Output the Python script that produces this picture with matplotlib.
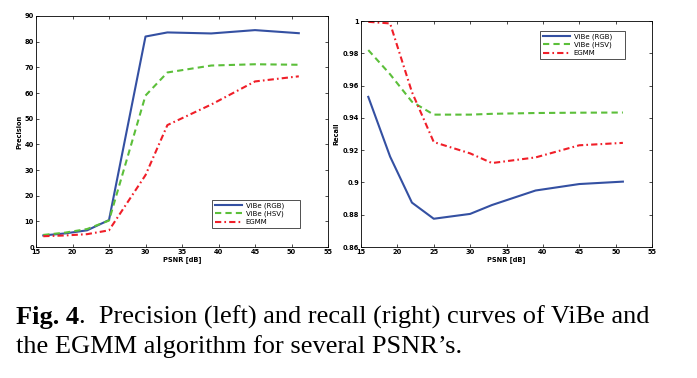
import matplotlib
matplotlib.use("Agg")
import matplotlib.pyplot as plt

psnr = [16, 19, 22, 25, 30, 33, 39, 45, 51]

prec_rgb = [4.5, 5.3, 6.5, 10.5, 82.0, 83.6, 83.2, 84.5, 83.3]
prec_hsv = [4.7, 5.6, 7.0, 10.3, 59.0, 68.0, 70.7, 71.2, 71.0]
prec_egmm = [4.2, 4.5, 5.0, 6.5, 28.0, 47.5, 55.5, 64.5, 66.5]

rec_rgb = [0.953, 0.916, 0.8875, 0.8775, 0.8805, 0.886, 0.895, 0.899, 0.9005]
rec_hsv = [0.982, 0.967, 0.950, 0.942, 0.942, 0.9425, 0.943, 0.9432, 0.9433]
rec_egmm = [0.9995, 0.9985, 0.956, 0.925, 0.918, 0.912, 0.9155, 0.923, 0.9245]

labels = ["ViBe (RGB)", "ViBe (HSV)", "EGMM"]
xticks = [15, 20, 25, 30, 35, 40, 45, 50, 55]
prec_ticks = [0, 10, 20, 30, 40, 50, 60, 70, 80, 90]
rec_ticks = [0.86, 0.88, 0.9, 0.92, 0.94, 0.96, 0.98, 1]

blue = "#3450a2"
green = "#5cbf3a"
red = "#f01e28"

W, H = 697, 378
fig = plt.figure(figsize=(W / 100, H / 100), dpi=100)

def add_ax(x0, y0, x1, y1):
    return fig.add_axes([x0 / W, 1 - y1 / H, (x1 - x0) / W, (y1 - y0) / H])

ax1 = add_ax(36, 16, 328, 247)
ax2 = add_ax(361, 21, 652, 247)

def style(ax, ylabel):
    ax.set_xlim(15, 55)
    ax.set_xticks(xticks)
    ax.tick_params(labelsize=4.8, length=2, width=0.5, direction="in",
                   top=True, right=True, pad=1.5, colors="black")
    for lab in ax.get_xticklabels() + ax.get_yticklabels():
        lab.set_fontweight("bold")
    ax.set_xlabel("PSNR [dB]", fontsize=4.8, labelpad=0.5, fontweight="bold")
    ax.set_ylabel(ylabel, fontsize=4.8, labelpad=2, fontweight="bold")
    for s in ax.spines.values():
        s.set_linewidth(0.6)

def plot_series(ax, a, b, c):
    ax.plot(psnr, a, color=blue, lw=1.5, ls="-", label=labels[0])
    ax.plot(psnr, b, color=green, lw=1.5, ls=(0, (3, 2)), label=labels[1])
    ax.plot(psnr, c, color=red, lw=1.5, ls=(0, (3, 1.5, 0.8, 1.5)), label=labels[2])

plot_series(ax1, prec_rgb, prec_hsv, prec_egmm)
ax1.set_ylim(0, 90)
ax1.set_yticks(prec_ticks)
style(ax1, "Precision")
leg1 = ax1.legend(loc="lower left", bbox_to_anchor=((209 - 36) / 292, (247 - 231) / 231,
                  (303 - 209) / 292, (231 - 201) / 231), mode="expand",
                  fontsize=5, frameon=True, fancybox=False, edgecolor="black",
                  handlelength=4, borderpad=0.3, labelspacing=0.3, handletextpad=0.5)
leg1.get_frame().set_linewidth(0.6)

plot_series(ax2, rec_rgb, rec_hsv, rec_egmm)
ax2.set_ylim(0.86, 1.0)
ax2.set_yticks(rec_ticks)
ax2.set_yticklabels(["0.86", "0.88", "0.9", "0.92", "0.94", "0.96", "0.98", "1"])
style(ax2, "Recall")
leg2 = ax2.legend(loc="lower left", bbox_to_anchor=((537 - 361) / 291, (247 - 62) / 226,
                  (628 - 537) / 291, (62 - 32) / 226), mode="expand",
                  fontsize=5, frameon=True, fancybox=False, edgecolor="black",
                  handlelength=4, borderpad=0.3, labelspacing=0.3, handletextpad=0.5)
leg2.get_frame().set_linewidth(0.6)

serif = ["Liberation Serif", "DejaVu Serif"]
fs = 19
y1 = 1 - 324 / H
t1 = fig.text(16 / W, y1, "Fig. 4", fontsize=fs, fontweight="bold", family=serif,
              va="baseline", ha="left")
r = fig.canvas.get_renderer()
bb = t1.get_window_extent(renderer=r)
t2 = fig.text(bb.x1 / W, y1, ".  Precision (left) and recall (right) curves of ViBe and",
              fontsize=fs, family=serif, va="baseline", ha="left")
fig.text(16 / W, 1 - 353 / H, "the EGMM algorithm for several PSNR\u2019s.",
         fontsize=fs, family=serif, va="baseline", ha="left")

fig.savefig("out.png", dpi=100)
